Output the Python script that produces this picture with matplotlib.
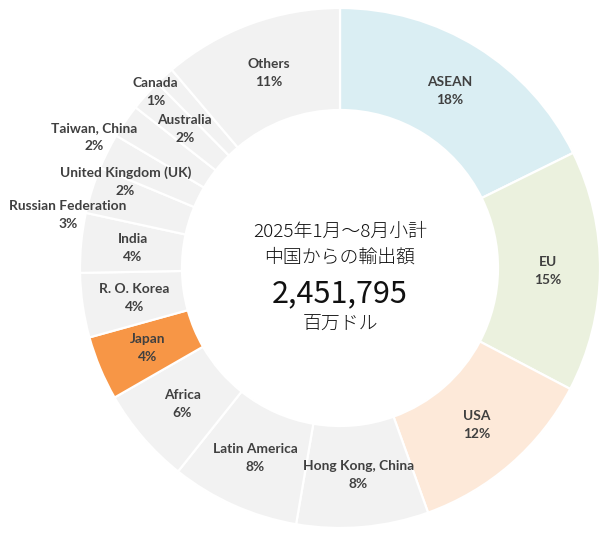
import matplotlib
matplotlib.use("Agg")
import matplotlib.pyplot as plt
import numpy as np

# ---- data ----
categories = ["ASEAN", "EU", "USA", "Hong Kong, China", "Latin America", "Africa",
              "Japan", "R. O. Korea", "India", "Russian Federation",
              "United Kingdom (UK)", "Taiwan, China", "Australia", "Canada", "Others"]
shares = [17.7, 15.0, 11.8, 8.2, 8.0, 6.0, 4.0, 4.0, 3.7, 2.9, 2.2, 2.1, 2.0, 1.2, 11.2]
total_value = 2451795
title_line1 = "2025年1月～8月小計"
title_line2 = "中国からの輸出額"
unit_label = "百万ドル"

# ---- styles ----
colors = ["#DAEEF3", "#EBF1DE", "#FDE9D9", "#F2F2F2", "#F2F2F2", "#F2F2F2",
          "#F79646", "#F2F2F2", "#F2F2F2", "#F2F2F2", "#F2F2F2", "#F2F2F2",
          "#F2F2F2", "#F2F2F2", "#F2F2F2"]
# label position overrides (radius factor, angle clockwise from top in degrees)
label_override = {
    "Russian Federation": (1.065, 281.0),
    "United Kingdom (UK)": (0.89, 292.0),
    "Taiwan, China": (1.07, 298.0),
    "Canada": (0.98, 313.6),
}

W, H = 615, 541
cx, cy, R = 340, 268, 260
fig = plt.figure(figsize=(W / 100, H / 100), dpi=100)
ax = fig.add_axes([0, 0, 1, 1])

inner = 158 / R
wedges, _ = ax.pie(shares, colors=colors, startangle=90, counterclock=False,
                   radius=1.0, wedgeprops=dict(width=1 - inner, edgecolor="white", linewidth=1.6))
ax.set_xlim(-cx / R, (W - cx) / R)
ax.set_ylim(-(H - cy) / R, cy / R)
ax.set_aspect("equal")
ax.axis("off")

cum = np.cumsum([0] + shares[:-1])
tot = sum(shares)
for name, s, c0 in zip(categories, shares, cum):
    mid = (c0 + s / 2) / tot * 360
    r = 0.8
    if name in label_override:
        r, mid = label_override[name]
    a = np.deg2rad(mid)
    x, y = r * np.sin(a), r * np.cos(a)
    ax.text(x, y, f"{name}\n{round(s / tot * 100):d}%", ha="center", va="center",
            fontsize=9.9, fontweight="bold", color="#404040", family="Lato",
            linespacing=1.6)

cjk = ["Noto Sans CJK JP", "DejaVu Sans"]
ax.text(0, (cy - 232) / R, title_line1, ha="center", va="center", fontsize=13.6,
        family=cjk, color="#111111", fontweight="light")
ax.text(0, (cy - 258) / R, title_line2, ha="center", va="center", fontsize=13.6,
        family=cjk, color="#111111", fontweight="light")
ax.text(0, (cy - 294) / R, f"{total_value:,}", ha="center", va="center", fontsize=22,
        family=cjk, color="#111111")
ax.text(0, (cy - 325) / R, unit_label, ha="center", va="center", fontsize=13.6,
        family=cjk, color="#111111", fontweight="light")

fig.savefig("out.png", dpi=100, facecolor="white")
